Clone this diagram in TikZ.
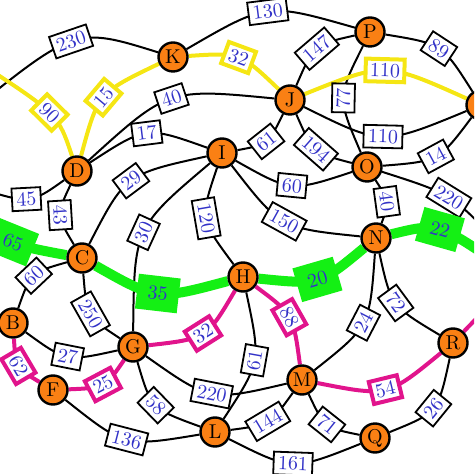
\documentclass[tikz,border=0pt]{standalone}
\usepackage{xcolor}
\definecolor{nodeor}{RGB}{250,128,20}
\definecolor{ylw}{RGB}{245,230,20}
\definecolor{grn}{RGB}{20,240,20}
\definecolor{mag}{RGB}{225,20,140}
\definecolor{txtb}{RGB}{50,50,200}
\pgfdeclarelayer{blk}
\pgfdeclarelayer{col}
\pgfsetlayers{blk,col,main}
\tikzset{
 vtx/.style={circle,draw=black,fill=nodeor,line width=1.2pt,minimum size=14.5pt,inner sep=0pt,font=\fontsize{10}{11}\selectfont},
 eb/.style={draw=black,line width=1pt},
 ey/.style={draw=ylw,line width=2pt},
 eg/.style={draw=grn,line width=5pt},
 em/.style={draw=mag,line width=2pt},
 lbase/.style={sloped,text=txtb,inner xsep=2.2pt,inner ysep=2.4pt,text height=6.5pt,text depth=0pt,font=\fontsize{10}{11}\selectfont},
 lb/.style={lbase,draw=black,fill=white,line width=0.9pt},
 ly/.style={lbase,draw=ylw,fill=white,line width=2pt},
 lg/.style={lbase,draw=grn,fill=grn,line width=5pt,inner xsep=3pt,inner ysep=3pt},
 lm/.style={lbase,draw=mag,fill=white,line width=2pt},
}
\newcommand\myedge[7]{%
 \begin{pgfonlayer}{#1}\begin{scope}\clip (0,0) rectangle (474,474);\draw[#2] (#3) .. controls (#4) .. (#5);\end{scope}\end{pgfonlayer}%
 \path (#3) .. controls (#4) .. (#5) node[pos=0.5,#6]{#7};}
\begin{document}
\begin{tikzpicture}[x=0.5pt,y=-0.5pt]
\useasboundingbox (0,0) rectangle (474,474);
\clip (0,0) rectangle (474,474);
\node[vtx] (K) at (173,57) {K};
\node[vtx] (J) at (290,100) {J};
\node[vtx] (I) at (222,153) {I};
\node[vtx] (P) at (370,32) {P};
\node[vtx] (X) at (481,105) {};
\node[vtx] (O) at (367,167) {O};
\node[vtx] (N) at (376,238) {N};
\node[vtx] (D) at (77,171) {D};
\node[vtx] (C) at (82,258) {C};
\node[vtx] (H) at (243,277) {H};
\node[vtx] (B) at (13,323) {B};
\node[vtx] (G) at (133,347) {G};
\node[vtx] (F) at (53,390) {F};
\node[vtx] (M) at (302,380) {M};
\node[vtx] (L) at (215,432) {L};
\node[vtx] (Q) at (375,438) {Q};
\node[vtx] (R) at (453,343) {R};
\coordinate (a230) at (-40,120);
\coordinate (a90) at (-25,60);
\coordinate (a45) at (-30,185);
\coordinate (a65) at (-40,212);
\coordinate (a220) at (500,245);
\coordinate (a22) at (500,265);
\coordinate (aR) at (495,300);
\myedge{blk}{eb}{a230}{75.1,26.5}{K}{lb}{230}
\myedge{col}{ey}{a90}{58,114}{D}{ly}{90}
\myedge{col}{ey}{D}{98,93}{K}{ly}{15}
\myedge{col}{ey}{K}{240.2,52.5}{J}{ly}{32}
\myedge{col}{ey}{J}{384.8,61.8}{X}{ly}{110}
\myedge{blk}{eb}{K}{266.8,2.5}{P}{lb}{130}
\myedge{blk}{eb}{J}{314,44.7}{P}{lb}{147}
\myedge{blk}{eb}{P}{442.2,43.8}{X}{lb}{89}
\myedge{blk}{eb}{P}{337.2,97.5}{O}{lb}{77}
\myedge{blk}{eb}{J}{382.2,145.8}{X}{lb}{110}
\myedge{blk}{eb}{O}{438.7,161.3}{X}{lb}{14}
\myedge{blk}{eb}{O}{451.5,194}{a220}{lb}{220}
\myedge{blk}{eb}{J}{313.2,152.8}{O}{lb}{194}
\myedge{blk}{eb}{I}{268,144.5}{J}{lb}{61}
\myedge{blk}{eb}{D}{168.2,88.2}{J}{lb}{40}
\myedge{blk}{eb}{D}{146.2,126}{I}{lb}{17}
\myedge{blk}{eb}{D}{29.5,204.7}{a45}{lb}{45}
\myedge{blk}{eb}{D}{56.2,215.2}{C}{lb}{43}
\myedge{blk}{eb}{C}{125.3,174.2}{I}{lb}{29}
\myedge{blk}{eb}{I}{134.2,227.3}{G}{lb}{30}
\myedge{blk}{eb}{I}{199.8,219}{H}{lb}{120}
\myedge{blk}{eb}{I}{291.2,192}{O}{lb}{60}
\myedge{blk}{eb}{I}{280.3,228.2}{N}{lb}{150}
\myedge{blk}{eb}{O}{389.5,201.8}{N}{lb}{40}
\myedge{col}{eg}{N}{438,222.8}{a22}{lg}{22}
\myedge{col}{eg}{H}{319.5,284.8}{N}{lg}{20}
\myedge{col}{eg}{C}{156.5,300.2}{H}{lg}{35}
\myedge{col}{eg}{a65}{13,245.2}{C}{lg}{65}
\myedge{blk}{eb}{C}{30.8,272.5}{B}{lb}{60}
\myedge{blk}{eb}{C}{86.8,316.5}{G}{lb}{250}
\myedge{blk}{eb}{B}{66.3,361.7}{G}{lb}{27}
\myedge{col}{em}{B}{15.7,367.8}{F}{lm}{62}
\myedge{col}{em}{F}{105,387.8}{G}{lm}{25}
\myedge{col}{em}{G}{206.7,338.7}{H}{lm}{32}
\myedge{col}{em}{H}{293.2,314.5}{M}{lm}{88}
\myedge{col}{em}{M}{387.5,396.8}{R}{lm}{54}
\begin{pgfonlayer}{col}\begin{scope}\clip (0,0) rectangle (474,474);\draw[em] (R) .. controls (470,325) .. (aR);\end{scope}\end{pgfonlayer}
\myedge{blk}{eb}{F}{124.7,447}{L}{lb}{136}
\myedge{blk}{eb}{G}{151.3,408.8}{L}{lb}{58}
\myedge{blk}{eb}{G}{210.2,401.5}{M}{lb}{220}
\myedge{blk}{eb}{H}{261,361.8}{L}{lb}{61}
\myedge{blk}{eb}{L}{269.8,424.7}{M}{lb}{144}
\myedge{blk}{eb}{L}{292.4,471}{Q}{lb}{161}
\myedge{blk}{eb}{M}{324.5,427.7}{Q}{lb}{71}
\myedge{blk}{eb}{Q}{438,412.5}{R}{lb}{26}
\myedge{blk}{eb}{M}{369.7,326.3}{N}{lb}{24}
\myedge{blk}{eb}{N}{391.1,305.9}{R}{lb}{72}
\end{tikzpicture}
\end{document}
